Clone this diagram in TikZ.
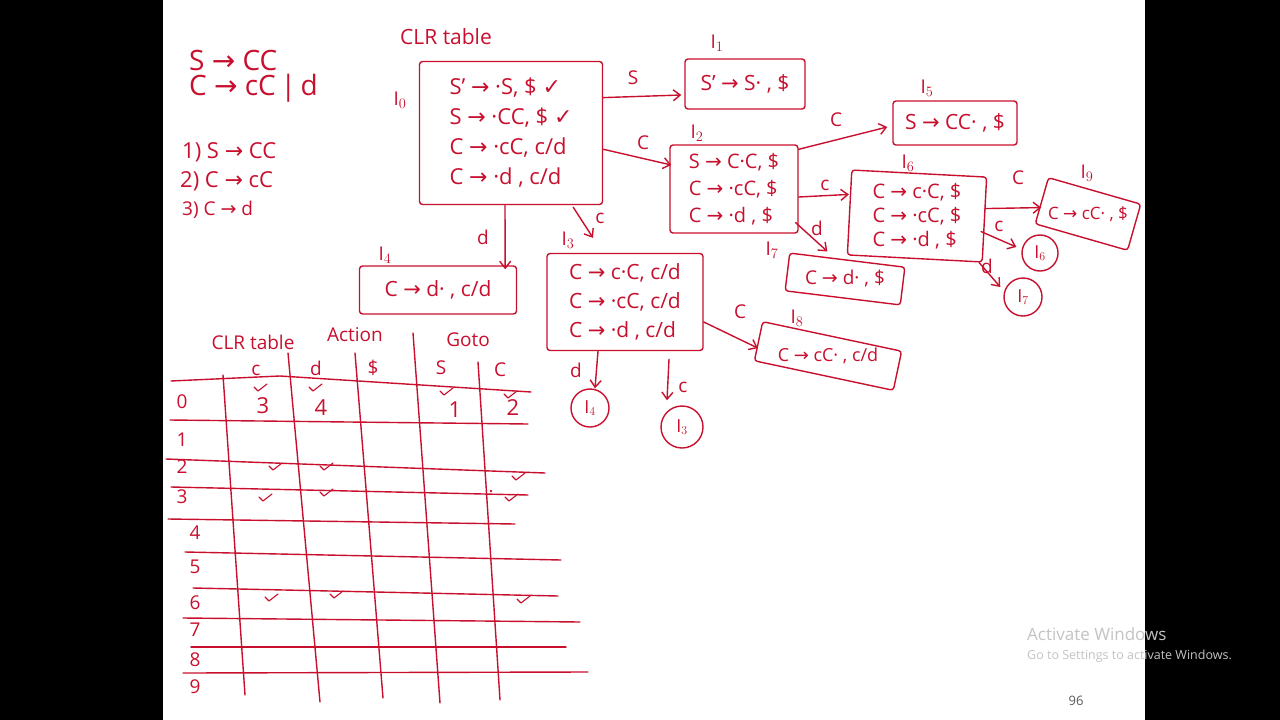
\documentclass[tikz,border=0pt]{standalone}
\usepackage{fontspec}
\setmainfont{Open Sans}
\newfontfamily\symfont{DejaVu Sans}
\usetikzlibrary{arrows.meta}
\definecolor{inkred}{RGB}{200,16,46}
\definecolor{wmgray}{RGB}{195,195,195}
\definecolor{pgnum}{RGB}{90,90,90}
\newcommand\myarr{{\symfont →}}
\newcommand\myck{{\symfont ✓}}
\begin{document}
\begin{tikzpicture}[x=1pt,y=-1pt]
\tikzset{
 ink/.style={draw=inkred, line width=1.4pt, line cap=round, line join=round},
 state/.style={ink, rectangle, rounded corners=3pt, text=inkred, align=left, inner sep=3pt, font=\fontsize{21}{29}\selectfont},
 boxtext/.style={text=inkred, inner sep=0pt, align=left},
 ring/.style={ink, circle, text=inkred, inner sep=0pt, font=\fontsize{18}{20}\selectfont},
 lbl/.style={text=inkred, inner sep=1pt, font=\fontsize{19}{22}\selectfont},
 big/.style={text=inkred, inner sep=1pt, anchor=west, font=\fontsize{28}{30}\selectfont},
 mid/.style={text=inkred, inner sep=1pt, anchor=west, font=\fontsize{22}{24}\selectfont},
 arr/.style={ink, -{Straight Barb[length=7pt,width=11pt]}},
 ttext/.style={text=inkred, inner sep=1pt, font=\fontsize{19}{22}\selectfont},
}
\useasboundingbox (0,0) rectangle (1280,720);
\fill[black] (0,0) rectangle (1280,720);
\fill[white] (163,0) rectangle (1145,720);

% grammar
\node[big] (g1) at (188,60) {S \myarr{} CC};
\node[big] (g2) at (188,88) {C \myarr{} cC\,|\,d};
\node[mid] (r1) at (181,152) {1) S \myarr{} CC};
\node[mid] (r2) at (179,181) {2) C \myarr{} cC};
\node[mid, font=\fontsize{19}{22}\selectfont] (r3) at (181,210) {3) C \myarr{} d};
\node[lbl, font=\fontsize{21}{24}\selectfont] (title) at (446,37) {CLR table};

% states
\node[state, minimum width=183pt, minimum height=143pt, font=\fontsize{22}{30}\selectfont] (I0) at (511,133)
 {S' \myarr{} ·S, \$ \myck\\ S \myarr{} ·CC, \$ \myck\\ C \myarr{} ·cC, c/d\\ C \myarr{} ·d , c/d};
\node[lbl] (L0) at (400,100) {I$_0$};

\node[state, minimum width=120pt, minimum height=50pt] (I1) at (745,84) {S' \myarr{} S· , \$};
\node[lbl] (L1) at (717,43) {I$_1$};

\node[state, minimum width=128pt, minimum height=88pt, font=\fontsize{20}{27}\selectfont] (I2) at (734,189)
 {S \myarr{} C·C, \$\\ C \myarr{} ·cC, \$\\ C \myarr{} ·d , \$};
\node[lbl] (L2) at (697,133) {I$_2$};

\node[state, minimum width=124pt, minimum height=44pt] (I5) at (955,123) {S \myarr{} CC· , \$};
\node[lbl] (L5) at (927,88) {I$_5$};

\node[state, minimum width=135pt, minimum height=85pt, rotate=-3] (I6) at (917,216) {};
\node[boxtext, font=\fontsize{20}{24}\selectfont] (I6t) at (I6.center)
 {C \myarr{} c·C, \$\\ C \myarr{} ·cC, \$\\ C \myarr{} ·d , \$};
\node[lbl] (L6) at (908,163) {I$_6$};

\node[state, minimum width=96pt, minimum height=48pt, rotate=-16] (I9) at (1088,214) {};
\node[boxtext, font=\fontsize{17}{20}\selectfont] (I9t) at (I9.center) {C \myarr{} cC· , \$};
\node[lbl] (L9) at (1087,173) {I$_9$};

\node[state, minimum width=116pt, minimum height=38pt, rotate=-7] (I7) at (845,279) {};
\node[boxtext, font=\fontsize{19}{22}\selectfont] (I7t) at (I7.center) {C \myarr{} d· , \$};
\node[lbl] (L7) at (772,250) {I$_7$};

\node[state, minimum width=156pt, minimum height=97pt] (I3) at (625,302)
 {C \myarr{} c·C, c/d\\ C \myarr{} ·cC, c/d\\ C \myarr{} ·d , c/d};
\node[lbl] (L3) at (568,240) {I$_3$};

\node[state, minimum width=157pt, minimum height=48pt] (I4) at (438,290) {C \myarr{} d· , c/d};
\node[lbl] (L4) at (385,255) {I$_4$};

\node[state, minimum width=142pt, minimum height=40pt, rotate=-12] (I8) at (828,356) {};
\node[boxtext, font=\fontsize{18}{20}\selectfont] (I8t) at (I8.center) {C \myarr{} cC· , c/d};
\node[lbl] (L8) at (797,318) {I$_8$};

% goto circles
\node[ring, minimum size=36pt] (C6) at (1040,253) {I$_6$};
\node[ring, minimum size=38pt] (C7) at (1023,297) {I$_7$};
\node[ring, minimum size=38pt] (C4) at (590,408) {I$_4$};
\node[ring, minimum size=42pt] (C3) at (682,427) {I$_3$};

% transitions
\draw[arr] (I0.21) -- ([shift={(-3,11)}]I1.west);
\node[lbl] (e01) at (633,78) {S};
\draw[arr] (I0.-10) -- ([shift={(2,-24)}]I2.west);
\node[lbl] (e02) at (643,143) {C};
\draw[arr] ([shift={(0,5)}]I2.north east) -- ([shift={(-5,4)}]I5.west);
\node[lbl] (e25) at (836,120) {C};
\draw[arr] ([shift={(0,8)}]I2.east) -- ([shift={(0,-18)}]I6.west);
\node[lbl] (e26) at (825,185) {c};
\draw[arr] ([shift={(-3,-11)}]I2.south east) -- ([shift={(-20,-8)}]I7.north);
\node[lbl] (e27) at (817,228) {d};
\draw[arr] ([shift={(0,-11)}]I6.east) -- ([shift={(0,7)}]I9.west);
\node[lbl] (e69) at (1018,178) {C};
\draw[arr] ([shift={(-4,12)}]I6.east) -- ([shift={(-5,-6)}]C6.west);
\node[lbl] (e66) at (999,226) {c};
\draw[arr] ([shift={(-6,43)}]I6.east) -- ([shift={(-3,-10)}]C7.west);
\node[lbl] (e67) at (987,266) {d};
\draw[arr] ([shift={(-30,2)}]I0.south east) -- ([shift={(-32,-15)}]I3.north);
\node[lbl] (e03) at (600,218) {c};
\draw[arr] ([shift={(-6,0)}]I0.south) -- ([shift={(-12,4)}]I4.north east);
\node[lbl] (e04) at (483,237) {d};
\draw[arr] ([shift={(0,20)}]I3.east) -- ([shift={(0,7)}]I8.west);
\node[lbl] (e38) at (740,312) {C};
\draw[arr] ([shift={(-27,0)}]I3.south) -- ([shift={(5,0)}]C4.north);
\node[lbl] (e34) at (576,370) {d};
\draw[arr] ([shift={(44,8)}]I3.south) -- ([shift={(-15,-5)}]C3.north);
\node[lbl] (e33) at (683,387) {c};

% parsing table
\node[ttext] (t1) at (253,342) {CLR table};
\node[ttext] (t2) at (355,335) {Action};
\node[ttext] (t3) at (468,340) {Goto};
\node[ttext] (hc) at (256,370) {c};
\node[ttext] (hd) at (316,368) {d};
\node[ttext] (hs) at (373,368) {\$};
\node[ttext] (hS) at (441,368) {S};
\node[ttext] (hC) at (500,370) {C};
\draw[ink] (171,381) -- (280,376) -- (531,392);
\draw[ink] (170,420) -- (528,424);
\draw[ink] (166,459) -- (545,473);
\draw[ink] (171,487) -- (528,495);
\draw[ink] (168,519) -- (515,524);
\draw[ink] (185,552) -- (561,560);
\draw[ink] (193,588) -- (558,596);
\draw[ink] (183,618) -- (580,622);
\draw[ink] (191,647) -- (566,647);
\draw[ink] (183,673) -- (588,672);
\draw[ink] (223,375) -- (245,695);
\draw[ink] (288,353) -- (320,702);
\draw[ink] (355,353) -- (383,698);
\draw[ink] (413,333) -- (440,703);
\draw[ink] (478,362) -- (500,700);
\foreach \r/\yy in {0/402,1/440,2/467,3/497} \node[ttext] (row\r) at (182,\yy) {\r};
\foreach \r/\yy in {4/533,5/567,6/603,7/630,8/660,9/687} \node[ttext] (row\r) at (195,\yy) {\r};
\node[ttext, font=\fontsize{22}{24}\selectfont] (v03) at (263,406) {3};
\node[ttext, font=\fontsize{22}{24}\selectfont] (v04) at (321,408) {4};
\node[ttext, font=\fontsize{22}{24}\selectfont] (v01) at (455,410) {1};
\node[ttext, font=\fontsize{22}{24}\selectfont] (v02) at (513,408) {2};
\foreach \cx/\cy in {260/388,315/388,446/392,510/395,275/467,326/467,518/477,265/498,326/493,511/498,271/598,336/595,523/600}
  \draw[ink, line width=1.1pt, shift={(\cx,\cy)}] (-6,-1) -- (-2,3) -- (7,-4);
\fill[inkred] (491,491) circle (1.3);

% watermark
\node[text=wmgray, anchor=west, inner sep=0pt, font=\fontsize{17}{20}\selectfont] (wm1) at (1027,634) {Activate Windows};
\node[text=wmgray, anchor=west, inner sep=0pt, font=\fontsize{12.5}{15}\selectfont] (wm2) at (1027,656) {Go to Settings to activate Windows.};
\node[text=pgnum, inner sep=0pt, font=\fontsize{13}{15}\selectfont] (pg) at (1076,701) {96};
\end{tikzpicture}
\end{document}
